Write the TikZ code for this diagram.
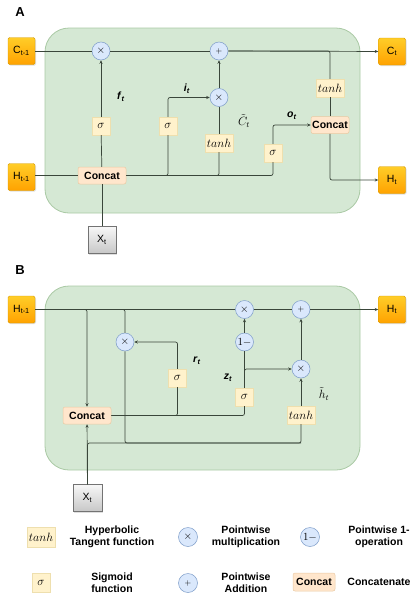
\documentclass[tikz,border=0pt]{standalone}
\usepackage[no-math]{fontspec}
\setmainfont{Liberation Sans}
\usepackage{tikz}
\usetikzlibrary{arrows.meta,positioning,calc,shadows}

\definecolor{panelfill}{HTML}{D5E8D4}
\definecolor{paneldraw}{HTML}{A9C9A4}
\definecolor{iotop}{HTML}{FFCD28}
\definecolor{iobot}{HTML}{FFA200}
\definecolor{iodraw}{HTML}{D79B00}
\definecolor{actfill}{HTML}{FFF2CC}
\definecolor{actdraw}{HTML}{EEDFAE}
\definecolor{catfill}{HTML}{FFE6CC}
\definecolor{catdraw}{HTML}{E9C9A2}
\definecolor{opfill}{HTML}{DAE8FC}
\definecolor{opdraw}{HTML}{7D9CC8}
\definecolor{wirecol}{HTML}{3A463A}

\newcommand{\gatelbl}[1]{\textbf{\textit{#1}\textsubscript{\textit{t}}}}
\newcommand{\fsz}[1]{\fontsize{#1}{12}\selectfont}

\begin{document}
\begin{tikzpicture}[x=1pt, y=-1pt,
  panel/.style={draw=paneldraw, fill=panelfill, rounded corners=24pt, line width=0.8pt},
  iobox/.style={draw=iodraw, top color=iotop, bottom color=iobot, minimum width=27pt,
    minimum height=27pt, inner sep=0pt, rounded corners=1.5pt,
    drop shadow={opacity=0.25, shadow xshift=1pt, shadow yshift=-1pt}, font=\fsz{10.5}},
  xbox/.style={draw=black!55, top color=black!3, bottom color=black!22, minimum width=28pt,
    minimum height=27pt, inner sep=0pt,
    drop shadow={opacity=0.25, shadow xshift=1pt, shadow yshift=-1pt}, font=\fsz{10.5}},
  act/.style={fill=actfill, draw=actdraw, line width=0.4pt, inner sep=0pt, inner xsep=2pt,
    minimum width=18pt, minimum height=18pt, font=\fsz{12}},
  cat/.style={fill=catfill, draw=catdraw, line width=0.5pt, rounded corners=2pt, inner sep=0pt,
    minimum width=48pt, minimum height=17pt, font=\bfseries\fsz{10.5}},
  op/.style={circle, draw=opdraw, fill=opfill, line width=0.5pt, minimum size=18pt,
    inner sep=0pt, font=\fsz{11}},
  lbl/.style={inner sep=0pt, font=\fsz{10.5}},
  legtxt/.style={align=center, inner sep=0pt, font=\bfseries\fsz{10.5}},
  wire/.style={draw=wirecol, line width=0.7pt, rounded corners=2pt},
  >={Stealth[length=3.5pt, width=3pt]}
]
\useasboundingbox (0,0) rectangle (418,600);

% ---- panel A: LSTM
\node[font=\bfseries\fsz{13}] (labA) at (20,12) {A};
\draw[panel] (45,28) rectangle (360,213);

\node[iobox] (cprev) at (21.5,51) {C\textsubscript{t-1}};
\node[iobox] (hprev) at (21.5,177) {H\textsubscript{t-1}};
\node[iobox] (cout) at (392,51.5) {C\textsubscript{t}};
\node[iobox] (hout) at (392,180) {H\textsubscript{t}};
\node[xbox] (xA) at (102,240) {X\textsubscript{t}};

\node[op] (fmul) at (101,51) {$\times$};
\node[op] (cadd) at (219,51) {$\scriptstyle +$};
\node[op] (imul) at (219,97.5) {$\times$};

\node[cat] (catA) at (102,175.5) {Concat};
\node[cat, minimum width=38pt] (catR) at (330,125) {Concat};
\node[act] (sigf) at (101,126) {$\sigma$};
\node[act] (sigi) at (168,126) {$\sigma$};
\node[act] (tanhA) at (219,143) {$tanh$};
\node[act] (sigo) at (273,153) {$\sigma$};
\node[act] (tanhC) at (330,88) {$tanh$};

\node[lbl] (ft) at (121,97) {\gatelbl{f}};
\node[lbl] (it) at (187,89) {\gatelbl{i}};
\node[lbl, font=\fsz{12}] (ct) at (244,121) {$\tilde{C}_t$};
\node[lbl] (ot) at (292,116) {\gatelbl{o}};

\draw[wire] (cprev) -- (fmul);
\draw[wire] (fmul) -- (cadd);
\draw[wire,->] (cadd) -- (cout);
\draw[wire] (hprev.east |- catA) -- (catA);
\draw[wire] (xA) -- (catA);
\draw[wire] (catA) -- (sigf);
\draw[wire,->] (sigf) -- (fmul);
\draw[wire] (catA.east) -| (sigi.south);
\draw[wire,->] (sigi.north) |- (imul.west);
\draw[wire] (catA.east) -| (tanhA.south);
\draw[wire] (tanhA) -- (imul);
\draw[wire,->] (imul) -- (cadd);
\draw[wire] (catA.east) -| (sigo.south);
\draw[wire,->] (sigo.north) |- (catR.west);
\draw[wire] (cadd.east) -| (tanhC.north);
\draw[wire] (tanhC) -- (catR);
\draw[wire,->] (catR.south) |- (hout.west);

% ---- panel B: GRU
\node[font=\bfseries\fsz{13}] (labB) at (20,270) {B};
\draw[panel] (45,286) rectangle (360,470);

\node[iobox] (hprevB) at (21.5,309.5) {H\textsubscript{t-1}};
\node[iobox] (houtB) at (392,309.5) {H\textsubscript{t}};
\node[xbox, minimum width=29pt] (xB) at (87.5,498) {X\textsubscript{t}};

\node[op] (zmul) at (244.5,309.5) {$\times$};
\node[op] (hadd) at (301,309.5) {$\scriptstyle +$};
\node[op] (onem) at (244.5,342) {$1-$};
\node[op] (hmul) at (301,369) {$\times$};
\node[op] (rmul) at (125,342) {$\times$};

\node[cat] (catB) at (87,415.5) {Concat};
\node[act] (sigr) at (177.5,378) {$\sigma$};
\node[act] (sigz) at (244.5,397) {$\sigma$};
\node[act] (tanhB) at (301,415) {$tanh$};
\coordinate (jt) at (301,443);

\node[lbl] (rt) at (197,361) {\gatelbl{r}};
\node[lbl] (zt) at (228,378) {\gatelbl{z}};
\node[lbl, font=\fsz{12}] (htl) at (324,394) {$\tilde{h}_t$};

\draw[wire] (hprevB) -- (zmul);
\draw[wire] (zmul) -- (hadd);
\draw[wire,->] (hadd) -- (houtB);
\draw[wire,->] (hprevB.east) -| (catB.north);
\draw[wire] (hprevB.east) -| (rmul.north);
\draw[wire] (rmul.south) |- (jt) -- (tanhB.south);
\draw[wire,->] (xB) -- (catB);
\draw[wire] (xB.north) |- (jt);
\draw[wire] (catB.east) -| (sigr.south);
\draw[wire,->] (sigr.north) |- (rmul.east);
\draw[wire] (catB.east) -| (sigz.south);
\draw[wire] (sigz) -- (onem);
\draw[wire,->] (onem) -- (zmul);
\draw[wire,->] (sigz.north) |- (hmul.west);
\draw[wire,->] (tanhB) -- (hmul);
\draw[wire,->] (hmul) -- (hadd);

% ---- legend
\node[act, minimum width=28pt, minimum height=20pt] (kTanh) at (41,537) {$tanh$};
\node[legtxt] (kTanhT) at (112,537) {Hyperbolic\\Tangent function};
\node[op, minimum size=19pt] (kMul) at (188,537) {$\times$};
\node[legtxt] (kMulT) at (246,537) {Pointwise\\multiplication};
\node[op, minimum size=19pt] (kOne) at (310,537) {$1-$};
\node[legtxt] (kOneT) at (379,537) {Pointwise 1-\\operation};

\node[act, minimum height=19pt] (kSig) at (41,583) {$\sigma$};
\node[legtxt] (kSigT) at (112,583) {Sigmoid\\function};
\node[op, minimum size=19pt] (kAdd) at (188,583) {$\scriptstyle +$};
\node[legtxt] (kAddT) at (246,583) {Pointwise\\Addition};
\node[cat, minimum width=42pt, minimum height=18pt] (kCat) at (314,582) {Concat};
\node[legtxt] (kCatT) at (379,582) {Concatenate};
\end{tikzpicture}
\end{document}
